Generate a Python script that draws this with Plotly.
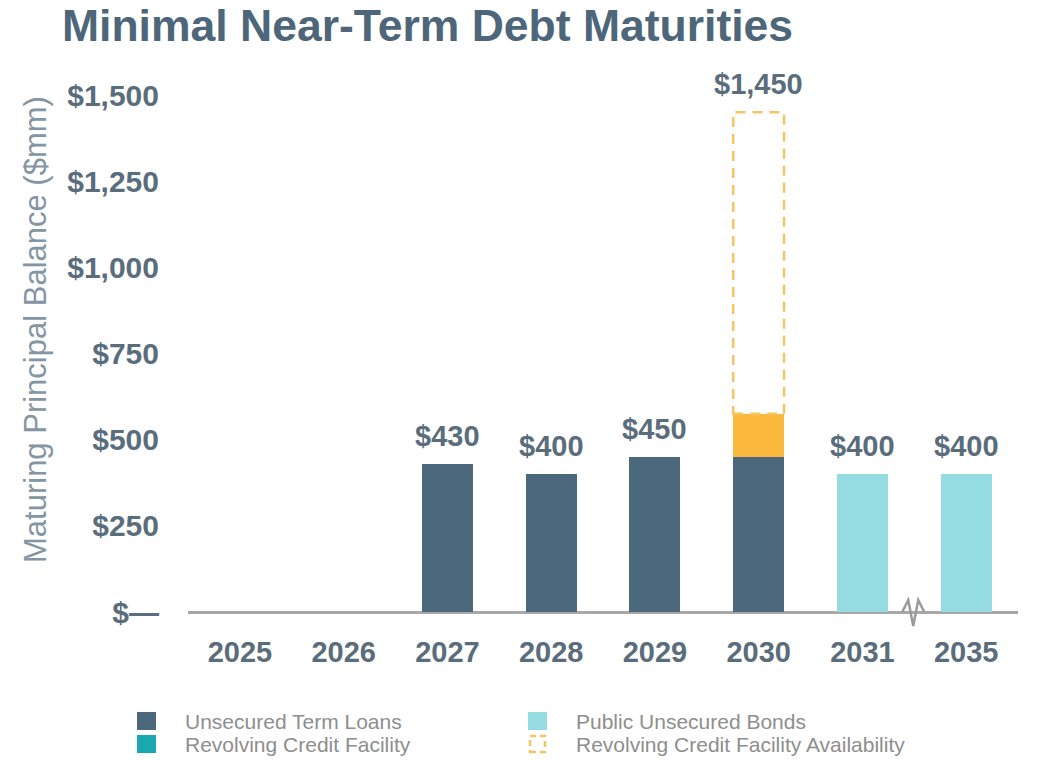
import plotly.graph_objects as go

# ---------------- data ----------------
years = ["2025", "2026", "2027", "2028", "2029", "2030", "2031", "2035"]
term_loans = [0, 0, 430, 400, 450, 450, 0, 0]
public_bonds = [0, 0, 0, 0, 0, 0, 400, 400]
revolver_drawn = [0, 0, 0, 0, 0, 125, 0, 0]
revolver_avail = [0, 0, 0, 0, 0, 875, 0, 0]
total_labels = [None, None, "$430", "$400", "$450", "$1,450", "$400", "$400"]
y_tick_vals = [0, 250, 500, 750, 1000, 1250, 1500]
y_tick_text = ["$—", "$250", "$500", "$750", "$1,000", "$1,250", "$1,500"]

legend_items = ["Unsecured Term Loans", "Public Unsecured Bonds",
                "Revolving Credit Facility", "Revolving Credit Facility Availability"]

# ---------------- style ----------------
C_DARK = "#4b687d"
C_LIGHT = "#95dbe2"
C_TEAL = "#19a8b0"
C_YELLOW = "#fab93c"
C_DASH = "#f7c463"
C_TICK = "#5a6d7c"
C_TITLE = "#4e6679"
C_YTITLE = "#8495a3"
C_LEG = "#8e8e8e"
FONT = "Liberation Sans, Arial, sans-serif"
BAR_W = 0.49

W, H = 1044, 780
L, R = 188, 26
Y_TOP_PX, Y_ZERO_PX = 95, 612          # pixel rows of 1500 and 0
Y_MIN, Y_MAX = -45, 1500
PX_PER_UNIT = (Y_ZERO_PX - Y_TOP_PX) / Y_MAX
Y_BOT_PX = Y_ZERO_PX - Y_MIN * PX_PER_UNIT

xs = list(range(len(years)))

fig = go.Figure()
for vals, col, nm in [(term_loans, C_DARK, legend_items[0]),
                      (public_bonds, C_LIGHT, legend_items[1]),
                      (revolver_drawn, C_YELLOW, legend_items[2]),
                      (revolver_avail, "rgba(0,0,0,0)", legend_items[3])]:
    fig.add_bar(x=xs, y=vals, width=BAR_W, marker_color=col, marker_line_width=0,
                name=nm, showlegend=False)

# dashed outline of availability segment (derived from data)
for i, a in enumerate(revolver_avail):
    if a > 0:
        base = term_loans[i] + public_bonds[i] + revolver_drawn[i]
        fig.add_shape(type="rect", xref="x", yref="y",
                      x0=i - BAR_W / 2, x1=i + BAR_W / 2, y0=base, y1=base + a,
                      line=dict(color=C_DASH, width=2.5, dash="10px,7px"),
                      fillcolor="rgba(0,0,0,0)")

# total labels
for i, lab in enumerate(total_labels):
    if lab:
        tot = term_loans[i] + public_bonds[i] + revolver_drawn[i] + revolver_avail[i]
        fig.add_annotation(x=i, y=tot, text=f"<b>{lab}</b>", showarrow=False,
                           yanchor="bottom", yshift=10,
                           font=dict(family=FONT, size=29, color=C_TICK))

# axis break zigzag between 2031 and 2035
fig.add_shape(type="path", xref="x", yref="y", xsizemode="pixel", ysizemode="pixel",
              xanchor=6.5, yanchor=0,
              path="M -12,0 L -6,12 L -1,-14 L 4,12 L 10,0",
              line=dict(color="#9a9a9a", width=2.5))

# manual legend
leg_pos = [(137, 712, 183), (528, 712, 574), (137, 735, 183), (528, 735, 574)]
leg_fill = [C_DARK, C_LIGHT, C_TEAL, None]
for (sx, sy, tx), name, col in zip(leg_pos, legend_items, leg_fill):
    if col:
        fig.add_shape(type="rect", xref="paper", yref="paper",
                      x0=sx / W, x1=(sx + 19) / W, y0=1 - (sy + 18) / H, y1=1 - sy / H,
                      fillcolor=col, line=dict(width=0))
    else:
        fig.add_shape(type="rect", xref="paper", yref="paper", x0=(sx + 2) / W, x1=(sx + 17) / W,
                      y0=1 - (sy + 17) / H, y1=1 - (sy + 1) / H,
                      fillcolor="rgba(0,0,0,0)", line=dict(color=C_DASH, width=2.5, dash="6px,4px"))
    fig.add_annotation(xref="paper", yref="paper", x=tx / W, y=1 - (sy + 9) / H,
                       xanchor="left", yanchor="middle", text=name, showarrow=False,
                       font=dict(family=FONT, size=21, color=C_LEG))

# y axis title
fig.add_annotation(xref="paper", yref="paper", x=35 / W, y=1 - 330 / H,
                   text="Maturing Principal Balance ($mm)",
                   textangle=-90, showarrow=False, xanchor="center", yanchor="middle",
                   font=dict(family=FONT, size=31, color=C_YTITLE))

fig.update_layout(
    width=W, height=H,
    margin=dict(l=0, r=0, t=0, b=0, autoexpand=False),
    paper_bgcolor="white", plot_bgcolor="white",
    barmode="stack",
    showlegend=False,
    title=dict(text="<b>Minimal Near-Term Debt Maturities</b>", x=62 / W, xanchor="left",
               y=1 - 25 / H, yanchor="middle", yref="container",
               font=dict(family=FONT, size=44.5, color=C_TITLE)),
    xaxis=dict(domain=[L / W, 1 - R / W], range=[-0.5, 7.5], tickvals=xs, ticktext=years,
               showgrid=False, zeroline=False, showline=False, automargin=False,
               ticks="", tickfont=dict(family=FONT, size=29, color=C_TICK, weight="bold"),
               ticklabelstandoff=4),
    yaxis=dict(domain=[1 - Y_BOT_PX / H, 1 - Y_TOP_PX / H], range=[Y_MIN, Y_MAX],
               tickvals=y_tick_vals, ticktext=y_tick_text, automargin=False,
               showgrid=False, zeroline=True, zerolinecolor="#a8a8a8", zerolinewidth=2.5,
               showline=False, ticks="",
               tickfont=dict(family=FONT, size=30, color=C_TICK, weight="bold"),
               ticklabelstandoff=28),
)

fig.write_html("out.html")
